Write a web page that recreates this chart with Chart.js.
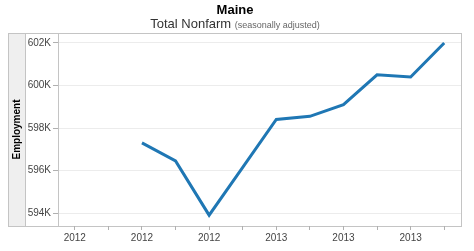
<!DOCTYPE html>
<html>
<head>
<meta charset="utf-8">
<script src="https://cdn.jsdelivr.net/npm/chart.js@4/dist/chart.umd.min.js"></script>
<style>
  html, body { margin: 0; padding: 0; background: #fff; }
  canvas { display: block; }
</style>
</head>
<body>
<canvas id="myChart" width="474" height="251"></canvas>
<script>
// months shown on the x axis (Jul 2012 .. Jun 2013)
const months = ['Jul 2012','Aug 2012','Sep 2012','Oct 2012','Nov 2012','Dec 2012',
                'Jan 2013','Feb 2013','Mar 2013','Apr 2013','May 2013','Jun 2013'];
const monthYears = ['2012','2012','2012','2012','2012','2012','2013','2013','2013','2013','2013','2013'];
// total nonfarm employment, thousands (seasonally adjusted)
const employment = [null, null, 597.3, 596.45, 593.9, 596.15, 598.4, 598.55, 599.1, 600.5, 600.4, 602.0];
const yTicks = [594, 596, 598, 600, 602];

const FONT = "'Liberation Sans', Arial, sans-serif";

// frame, grey strip, titles
const decor = {
  id: 'decor',
  beforeDraw(chart) {
    const c = chart.ctx;
    const a = chart.chartArea;
    c.save();
    c.fillStyle = '#efefef';
    c.fillRect(8, a.top, 17, a.bottom - a.top);
    c.strokeStyle = '#c4c4c4';
    c.lineWidth = 1;
    c.strokeRect(8.5, a.top + 0.5, a.right - 8, a.bottom - a.top);
    c.beginPath();
    c.moveTo(25.5, a.top); c.lineTo(25.5, a.bottom);
    c.stroke();
    c.restore();
  },
  afterDraw(chart) {
    const c = chart.ctx;
    const a = chart.chartArea;
    c.save();
    c.fillStyle = '#000';
    c.textAlign = 'center';
    c.textBaseline = 'middle';
    c.font = 'bold 13px ' + FONT;
    c.fillText('Maine', 235, 10);
    // subtitle in two sizes
    c.font = '13px ' + FONT;
    const t1 = 'Total Nonfarm ';
    const w1 = c.measureText(t1).width;
    c.font = '9px ' + FONT;
    const t2 = '(seasonally adjusted)';
    const w2 = c.measureText(t2).width;
    const x0 = 235 - (w1 + w2) / 2;
    c.textAlign = 'left';
    c.textBaseline = 'alphabetic';
    c.font = '13px ' + FONT;
    c.fillStyle = '#333';
    c.fillText(t1, x0, 28);
    c.font = '9px ' + FONT;
    c.fillStyle = '#666';
    c.fillText(t2, x0 + w1, 28);
    // y axis title in strip
    c.translate(17, (a.top + a.bottom) / 2);
    c.rotate(-Math.PI / 2);
    c.textAlign = 'center';
    c.textBaseline = 'middle';
    c.font = 'bold 10px ' + FONT;
    c.fillStyle = '#000';
    c.fillText('Employment', 0, 0);
    c.restore();
  }
};

new Chart(document.getElementById('myChart').getContext('2d'), {
  type: 'line',
  data: {
    labels: months,
    datasets: [{
      label: 'Employment',
      data: employment,
      borderColor: '#1f77b4',
      borderWidth: 3,
      pointRadius: 0,
      tension: 0,
      spanGaps: false
    }]
  },
  options: {
    responsive: false,
    animation: false,
    layout: { padding: { left: 8, top: 33, right: 13, bottom: 0 } },
    plugins: { legend: { display: false }, tooltip: { enabled: false } },
    scales: {
      x: {
        type: 'category',
        offset: true,
        afterFit: s => { s.height = 25; },
        grid: { display: true, drawOnChartArea: false, tickLength: 4, tickColor: '#b0b0b0' },
        border: { display: false },
        ticks: {
          autoSkip: false,
          maxRotation: 0,
          padding: 2,
          color: '#444',
          font: { family: FONT, size: 10 },
          callback: (v, i) => (i % 2 === 0 ? monthYears[i] : '')
        }
      },
      y: {
        min: 593.39,
        max: 602.47,
        afterFit: s => { s.width = 50; },
        afterBuildTicks: s => { s.ticks = yTicks.map(v => ({ value: v })); },
        grid: { color: '#ececec', tickLength: 5, tickColor: '#b0b0b0' },
        border: { display: true, color: '#c4c4c4' },
        ticks: {
          padding: 2,
          color: '#444',
          font: { family: FONT, size: 10 },
          callback: v => v + 'K'
        }
      }
    }
  },
  plugins: [decor]
});
</script>
</body>
</html>
